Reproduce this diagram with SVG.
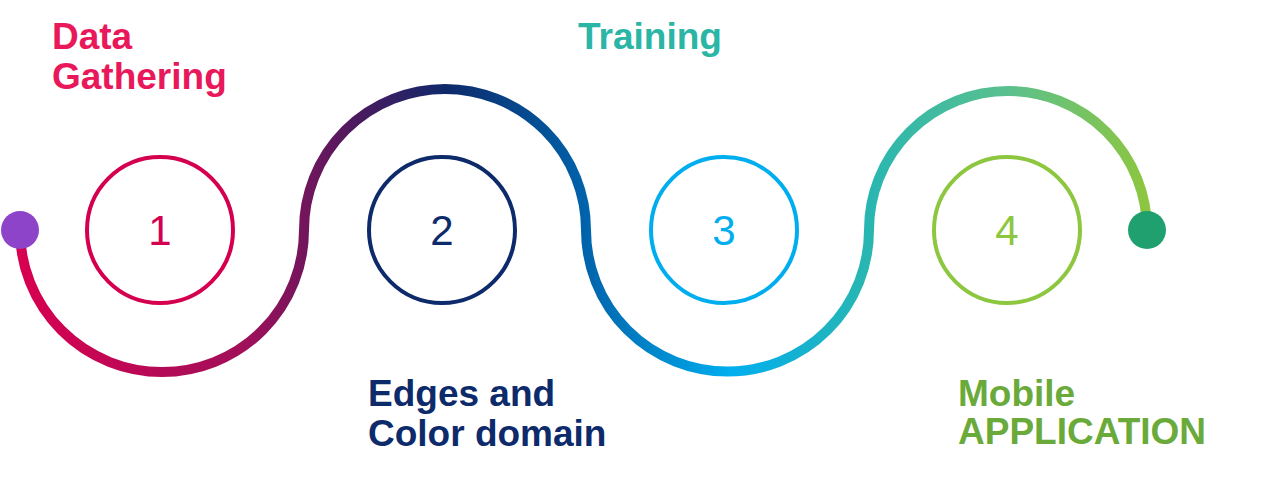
<svg xmlns="http://www.w3.org/2000/svg" width="1263" height="478" viewBox="0 0 1263 478">
<style>
.lbl{font-family:"Liberation Sans",Arial,sans-serif;font-weight:bold;font-size:37px}
.num{font-family:"Liberation Sans",Arial,sans-serif;font-size:42px;text-anchor:middle}
.ring{fill:none;stroke-width:4}
</style>
<defs>
<linearGradient id="g" gradientUnits="userSpaceOnUse" x1="20" y1="0" x2="1147" y2="0">
<stop offset="0" stop-color="#d80050"/>
<stop offset="0.2" stop-color="#a0105a"/>
<stop offset="0.3" stop-color="#4a1a5e"/>
<stop offset="0.38" stop-color="#0d2a6b"/>
<stop offset="0.5" stop-color="#0062aa"/>
<stop offset="0.63" stop-color="#00aeef"/>
<stop offset="0.75" stop-color="#28b6b2"/>
<stop offset="0.88" stop-color="#5cc08c"/>
<stop offset="1" stop-color="#8dc63f"/>
</linearGradient>
</defs>
<g id="connectors">
<path d="M20,230 A142,142 0 0 0 304,230 A141,141 0 0 1 586,230 A141.5,141.5 0 0 0 869,230 A139,139 0 0 1 1147,230" fill="none" stroke="url(#g)" stroke-width="10"/>
</g>
<g id="start"><circle cx="20" cy="230" r="19" fill="#8e44c8"/></g>
<g id="end"><circle cx="1147" cy="230" r="19" fill="#1fa06e"/></g>
<g id="step1"><circle class="ring" cx="160" cy="230" r="73" stroke="#d4004f"/><text class="num" x="160" y="245" fill="#d4004f">1</text>
<text class="lbl" fill="#e8185a"><tspan x="52" y="49">Data</tspan><tspan x="52" y="89">Gathering</tspan></text></g>
<g id="step2"><circle class="ring" cx="442" cy="230" r="73" stroke="#0d2a6b"/><text class="num" x="442" y="245" fill="#0d2a6b">2</text>
<text class="lbl" fill="#0d2a6b"><tspan x="368" y="406">Edges and</tspan><tspan x="368" y="446">Color domain</tspan></text></g>
<g id="step3"><circle class="ring" cx="724" cy="230" r="73" stroke="#00aeef"/><text class="num" x="724" y="245" fill="#00aeef">3</text>
<text class="lbl" x="578" y="49" fill="#2ab5a5">Training</text></g>
<g id="step4"><circle class="ring" cx="1007" cy="230" r="73" stroke="#8dc63f"/><text class="num" x="1007" y="245" fill="#8dc63f">4</text>
<text class="lbl" fill="#6aaa3a"><tspan x="958" y="406">Mobile</tspan><tspan x="958" y="444">APPLICATION</tspan></text></g>
</svg>
